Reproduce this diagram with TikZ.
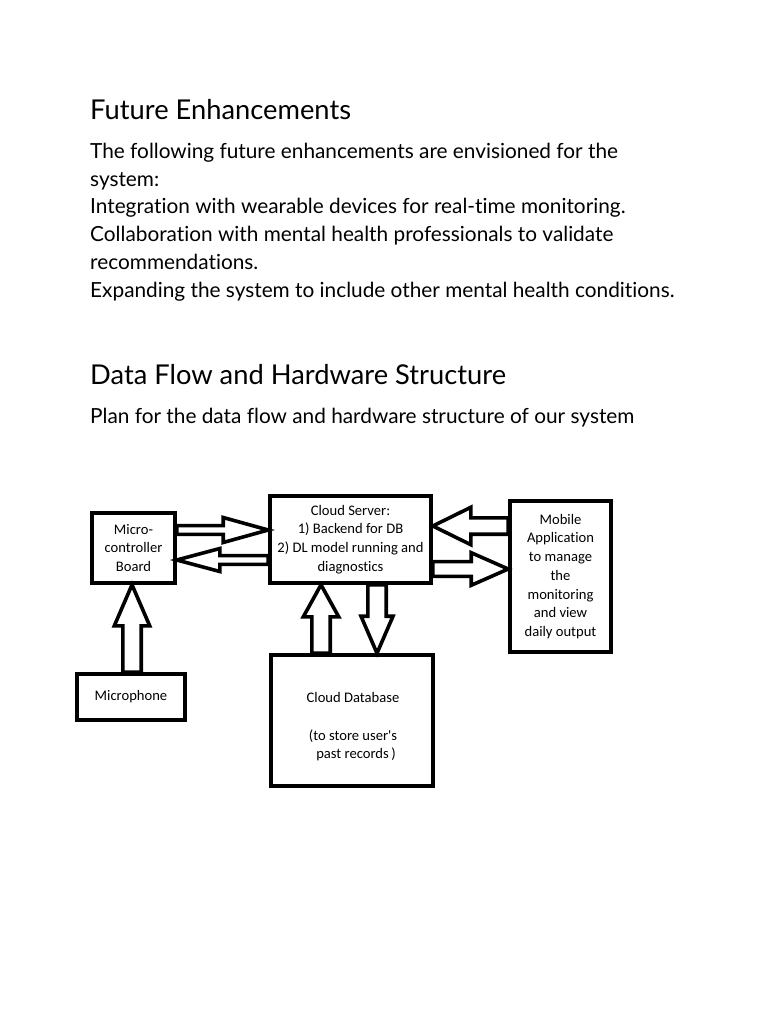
\documentclass[tikz,border=0pt]{standalone}
\usepackage{fontspec}
\setmainfont{Lato}[Ligatures=NoCommon]
\newfontfamily\diagfont{Carlito}[Ligatures=NoCommon]
\usetikzlibrary{calc}
\tikzset{
  blk/.style={draw=black, line width=3.6pt, fill=white, line join=miter},
  box/.style={draw=black, line width=3.6pt, fill=white, align=center, inner sep=0pt,
    font=\diagfont\fontsize{14.6}{18.7}\selectfont},
  head/.style={anchor=base west, inner sep=0pt, font=\fontsize{27.3}{32}\selectfont},
  body/.style={anchor=base west, inner sep=0pt, font=\fontsize{20.8}{24}\selectfont},
}
% block arrow: #1 start, #2 tip, #3 shaft half width, #4 head half width, #5 head length
\newcommand\blockarrow[5]{%
  \draw[blk] ($(#1)!#3!90:(#2)$) -- ($(#2)!#5!(#1)!#3!90:(#2)$) -- ($(#2)!#5!(#1)!#4!90:(#2)$)
    -- (#2) -- ($(#2)!#5!(#1)!#4!-90:(#2)$) -- ($(#2)!#5!(#1)!#3!-90:(#2)$)
    -- ($(#1)!#3!-90:(#2)$) -- cycle;}
\begin{document}
\begin{tikzpicture}[x=1pt, y=-1pt]
\useasboundingbox[fill=white] (0,0) rectangle (768,1024);

% texts
\node[head] (t1) at (90,119.3) {Future Enhancements};
\node[body] (l1) at (90,158.3) {The following future enhancements are envisioned for the};
\node[body] (l2) at (90,186.1) {system:};
\node[body] (l3) at (90,213.9) {Integration with wearable devices for real-time monitoring.};
\node[body] (l4) at (90,241.7) {Collaboration with mental health professionals to validate};
\node[body] (l5) at (90,269.5) {recommendations.};
\node[body] (l6) at (90,297.3) {Expanding the system to include other mental health conditions.};
\node[head] (t2) at (90,384.5) {Data Flow and Hardware Structure};
\node[body] (l7) at (90,423) {Plan for the data flow and hardware structure of our system};

% boxes
\node[box, minimum width=83pt, minimum height=70pt] (micro) at (133.5,548) {Micro-\\controller\\Board};
\node[box, minimum width=108pt, minimum height=46pt] (mic) at (131,697) {Microphone};
\node[box, minimum width=161pt, minimum height=87pt] (server) at (350.5,539.5)
  {Cloud Server:\\1) Backend for DB\\2) DL model running and\\diagnostics};
\node[box, minimum width=101pt, minimum height=151pt] (mobile) at (560.5,576.5)
  {Mobile\\Application\\to manage\\the\\monitoring\\and view\\daily output};
\node[box, minimum width=162pt, minimum height=131pt] (db) at (352,720.5) {};
\node[align=center, inner sep=0pt, font=\diagfont\fontsize{14.6}{18.7}\selectfont] (dbtext) at (353,727)
  {Cloud Database\\[18.7pt](to store user's\\\hspace{6pt}past records\,)};

% arrow end points
\coordinate (a1s) at (micro.east |- 0,530);
\coordinate (a1e) at (server.west |- 0,530);
\coordinate (a2s) at (server.west |- 0,560);
\coordinate (a2e) at (micro.east |- 0,560);
\coordinate (a3s) at (mobile.west |- 0,526);
\coordinate (a3e) at (server.east |- 0,526);
\coordinate (a4s) at (server.east |- 0,569);
\coordinate (a4e) at (mobile.west |- 0,569);
\coordinate (a5s) at (db.north -| 321,0);
\coordinate (a5e) at (server.south -| 321,0);
\coordinate (a6s) at (server.south -| 377,0);
\coordinate (a6e) at (db.north -| 377,0);
\coordinate (a7s) at (mic.north -| 132,0);
\coordinate (a7e) at (micro.south -| 132,0);

\blockarrow{a1s}{a1e}{4.4pt}{12.5pt}{45pt}
\blockarrow{a2s}{a2e}{4.4pt}{11.5pt}{43pt}
\blockarrow{a3s}{a3e}{8.2pt}{18.7pt}{38pt}
\blockarrow{a4s}{a4e}{7.4pt}{16.3pt}{37pt}
\blockarrow{a5s}{a5e}{9.2pt}{17.7pt}{32pt}
\blockarrow{a6s}{a6e}{9.2pt}{16pt}{37pt}
\blockarrow{a7s}{a7e}{9.2pt}{17.7pt}{41pt}
\end{tikzpicture}
\end{document}
